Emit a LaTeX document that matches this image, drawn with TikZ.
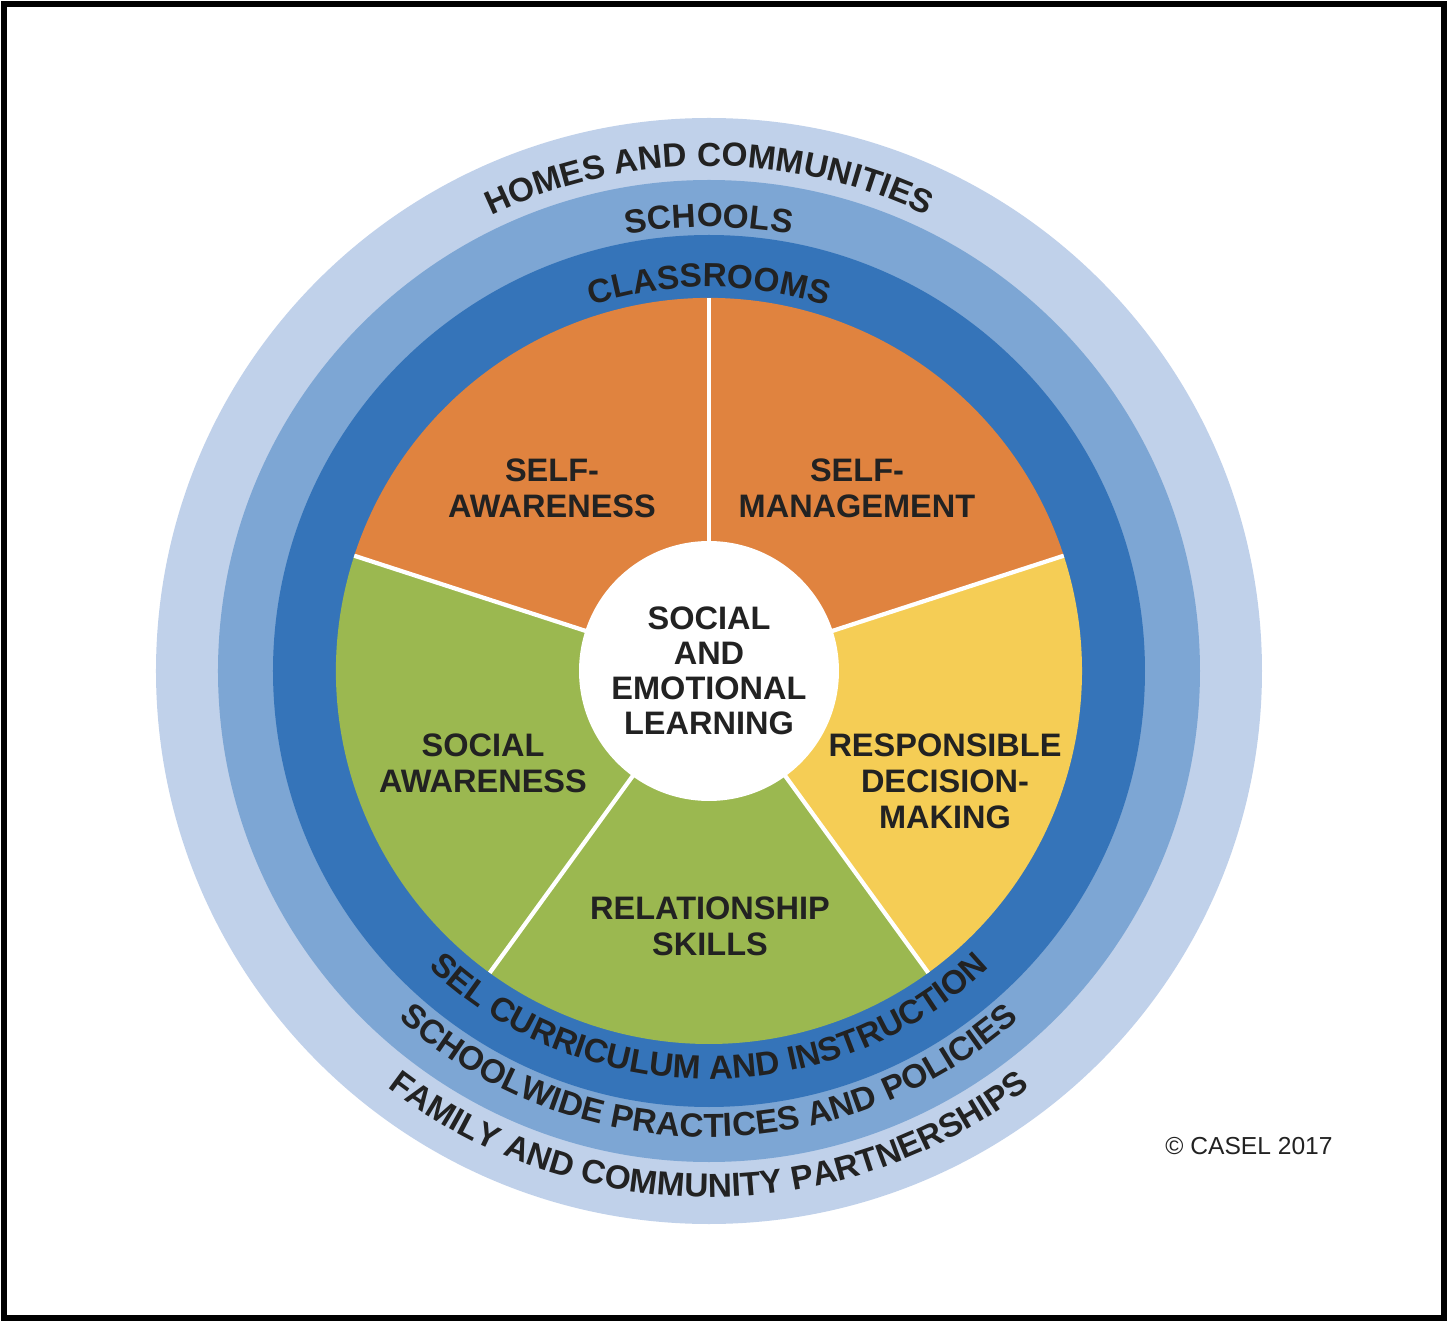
\documentclass[tikz,border=0pt]{standalone}
\usepackage{fontspec}
\setmainfont{Liberation Sans}
\usetikzlibrary{decorations.text}
\definecolor{orng}{HTML}{E0833F}
\definecolor{yel}{HTML}{F5CD55}
\definecolor{grn}{HTML}{9BB850}
\definecolor{dblue}{HTML}{3574B9}
\definecolor{mblue}{HTML}{7DA6D4}
\definecolor{lblue}{HTML}{C0D1EA}
\definecolor{txt}{HTML}{222222}
\newcommand{\ringfont}{\fontsize{19}{23}\selectfont\bfseries\color{txt}}
\begin{document}
\begin{tikzpicture}[x=0.02cm,y=0.02cm,
  lab/.style={font=\fontsize{18.5}{20.5}\selectfont\bfseries, text=txt, align=center},
  sep/.style={white, line width=2.4pt},
  ringtxt/.style={decoration={text along path, text align=center, text={|\ringfont|#1}}, decorate}]
\useasboundingbox (-709,-651) rectangle (739,671);
\draw[line width=3.5pt] (-705,-647) rectangle (735,667);
\fill[lblue] (0,0) circle (553);
\fill[mblue] (0,0) circle (491);
\fill[dblue] (0,0) circle (436);
\fill[orng] (0,0) -- (18:373) arc (18:162:373) -- cycle;
\fill[yel] (0,0) -- (-54:373) arc (-54:18:373) -- cycle;
\fill[grn] (0,0) -- (162:373) arc (162:306:373) -- cycle;
\foreach \a in {90,18,-54,-126,162} \draw[sep] (0,0) -- (\a:373);
\node[circle, fill=white, inner sep=0pt, minimum size=5.2cm, lab] (sel) at (0,0) {SOCIAL\\[-0.5pt]AND\\[-0.5pt]EMOTIONAL\\[-0.5pt]LEARNING};
\node[lab] (sa) at (-157,183) {SELF-\\AWARENESS};
\node[lab] (sm) at (148,183) {SELF-\\MANAGEMENT};
\node[lab] (soc) at (-226,-92) {SOCIAL\\AWARENESS};
\node[lab] (rd) at (236,-110) {RESPONSIBLE\\DECISION-\\MAKING};
\node[lab] (rs) at (1,-255) {RELATIONSHIP\\SKILLS};
\path[ringtxt={HOMES AND COMMUNITIES}] (130:505) arc (130:50:505);
\path[ringtxt={SCHOOLS}] (120:444) arc (120:60:444);
\path[ringtxt={CLASSROOMS}] (120:384) arc (120:60:384);
\path[ringtxt={SEL CURRICULUM AND INSTRUCTION}] (-150:408) arc (-150:-30:408);
\path[ringtxt={SCHOOLWIDE PRACTICES AND POLICIES}] (-150:466) arc (-150:-30:466);
\path[ringtxt={FAMILY AND COMMUNITY PARTNERSHIPS}] (-150:526) arc (-150:-30:526);
\node[font=\fontsize{14}{16}\selectfont, text=txt] (cp) at (540,-475) {© CASEL 2017};
\end{tikzpicture}
\end{document}
